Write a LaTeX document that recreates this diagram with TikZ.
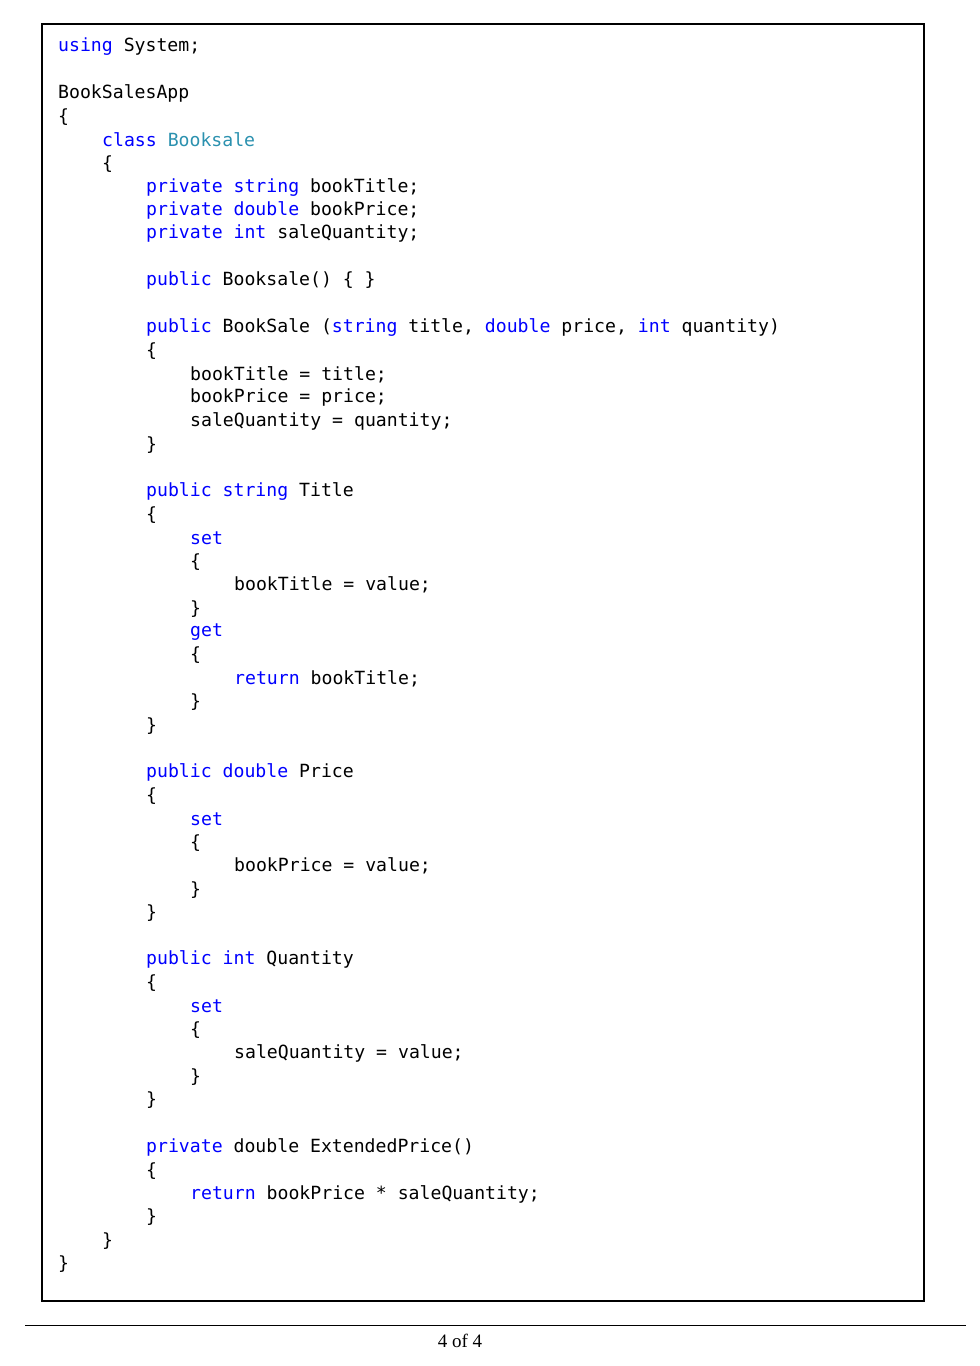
\documentclass[tikz,border=0pt]{standalone}
\usepackage{fontspec}
\setmainfont{Liberation Serif}
\setmonofont{DejaVu Sans Mono}
\definecolor{kw}{RGB}{0,0,255}
\definecolor{cls}{RGB}{43,145,175}
\newcommand{\K}[1]{\textcolor{kw}{#1}}
\begin{document}
\begin{tikzpicture}[x=1pt,y=-1pt,
  code/.style={anchor=west,inner sep=0pt,font=\fontsize{18.15}{20}\ttfamily}]
\useasboundingbox (0,0) rectangle (980,1366);
\draw[line width=1.2pt] (42,24) rectangle (924,1301);
\draw[line width=0.6pt] (25,1325) -- (966,1325);
\node[font=\fontsize{19}{22}\selectfont] (pg) at (460,1341) {4 of 4};
\def\L#1#2#3{\node[code] (l#1) at (58+44*#2, 46.5+23.42*#1-23.42) {#3};}
\L{1}{0}{\K{using} System;}
\L{3}{0}{BookSalesApp}
\L{4}{0}{\{}
\L{5}{1}{\K{class} \textcolor{cls}{Booksale}}
\L{6}{1}{\{}
\L{7}{2}{\K{private} \K{string} bookTitle;}
\L{8}{2}{\K{private} \K{double} bookPrice;}
\L{9}{2}{\K{private} \K{int} saleQuantity;}
\L{11}{2}{\K{public} Booksale() \{ \}}
\L{13}{2}{\K{public} BookSale (\K{string} title, \K{double} price, \K{int} quantity)}
\L{14}{2}{\{}
\L{15}{3}{bookTitle = title;}
\L{16}{3}{bookPrice = price;}
\L{17}{3}{saleQuantity = quantity;}
\L{18}{2}{\}}
\L{20}{2}{\K{public} \K{string} Title}
\L{21}{2}{\{}
\L{22}{3}{\K{set}}
\L{23}{3}{\{}
\L{24}{4}{bookTitle = value;}
\L{25}{3}{\}}
\L{26}{3}{\K{get}}
\L{27}{3}{\{}
\L{28}{4}{\K{return} bookTitle;}
\L{29}{3}{\}}
\L{30}{2}{\}}
\L{32}{2}{\K{public} \K{double} Price}
\L{33}{2}{\{}
\L{34}{3}{\K{set}}
\L{35}{3}{\{}
\L{36}{4}{bookPrice = value;}
\L{37}{3}{\}}
\L{38}{2}{\}}
\L{40}{2}{\K{public} \K{int} Quantity}
\L{41}{2}{\{}
\L{42}{3}{\K{set}}
\L{43}{3}{\{}
\L{44}{4}{saleQuantity = value;}
\L{45}{3}{\}}
\L{46}{2}{\}}
\L{48}{2}{\K{private} double ExtendedPrice()}
\L{49}{2}{\{}
\L{50}{3}{\K{return} bookPrice * saleQuantity;}
\L{51}{2}{\}}
\L{52}{1}{\}}
\L{53}{0}{\}}
\end{tikzpicture}
\end{document}
